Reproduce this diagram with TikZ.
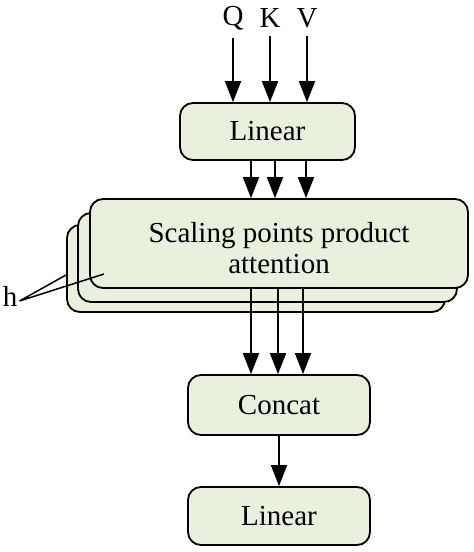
\documentclass[tikz,border=0pt]{standalone}
\usepackage{fontspec}
\setmainfont{Liberation Serif}
\usetikzlibrary{positioning, arrows.meta, calc}
\definecolor{boxfill}{RGB}{234,240,222}
\tikzset{
    x=1pt, y=-1pt, % pixel-like coordinates, y grows downwards
    block/.style={ % Sets the properties for each block
        draw,
        line width=1.8pt,
        rounded corners=13pt,
        fill=boxfill,
        font=\fontsize{29}{32}\selectfont,
        align=center,
        inner sep=0pt
    },
    lbl/.style={ % Plain text labels
        font=\fontsize{29}{32}\selectfont,
        align=center,
        inner sep=0pt
    },
    flow/.style={ % Sets the properties for each arrow
        draw,
        -{Triangle[length=21pt,width=16pt]},
        line width=1.8pt
    },
}

\begin{document}
\begin{tikzpicture}
            \useasboundingbox (0,0) rectangle (474,552);
            % top inputs
            \node[lbl]  (Q)     at (233,18)     {Q};
            \node[lbl]  (K)     at (270,18)     {K};
            \node[lbl]  (V)     at (307,18)     {V};
            \node[block, minimum width=175pt, minimum height=57pt]  (lin1)  at (267.5,131.5)    {Linear};
            % h stacked heads
            \node[block, minimum width=378pt, minimum height=87pt]  (att3)  at (256,268.5)      {};
            \node[block, minimum width=379pt, minimum height=89pt]  (att2)  at (267.5,257.5)    {};
            \node[block, minimum width=378pt, minimum height=89pt]  (att1)  at (279,243.5)      {};
            \node[lbl]  (atttext)   at (279,248)    {Scaling points product\\[-1pt]attention};
            \node[block, minimum width=182pt, minimum height=60pt]  (concat) at (279,405)       {Concat};
            \node[block, minimum width=182pt, minimum height=58pt]  (lin2)  at (279,516)        {Linear};
            \node[lbl]  (h)     at (10,296)     {h};
            \coordinate (h3)    at (66,275);
            \coordinate (h1)    at (104,274);

            \foreach \n in {Q,K,V}
                \draw[flow, shorten <=8pt]  (\n.south)  --  (\n |- lin1.north);
            \foreach \dx in {-16.5,7.5,38.5} {
                \path (lin1.south) ++(\dx,0) coordinate (top);
                \draw[flow]     (top)   --  (top |- att1.north);
            }
            \foreach \dx in {-28,-1,24} {
                \path (att1.south) ++(\dx,0) coordinate (bot);
                \draw[flow]     (bot)   --  (bot |- concat.north);
            }
            \draw[flow]     (concat)    --  (lin2);
            \draw[line width=1.5pt]     ($(h.east)+(2,5)$)  --  (h3)
                                        ($(h.east)+(2,5)$)  --  (h1);
        \end{tikzpicture}
\end{document}
